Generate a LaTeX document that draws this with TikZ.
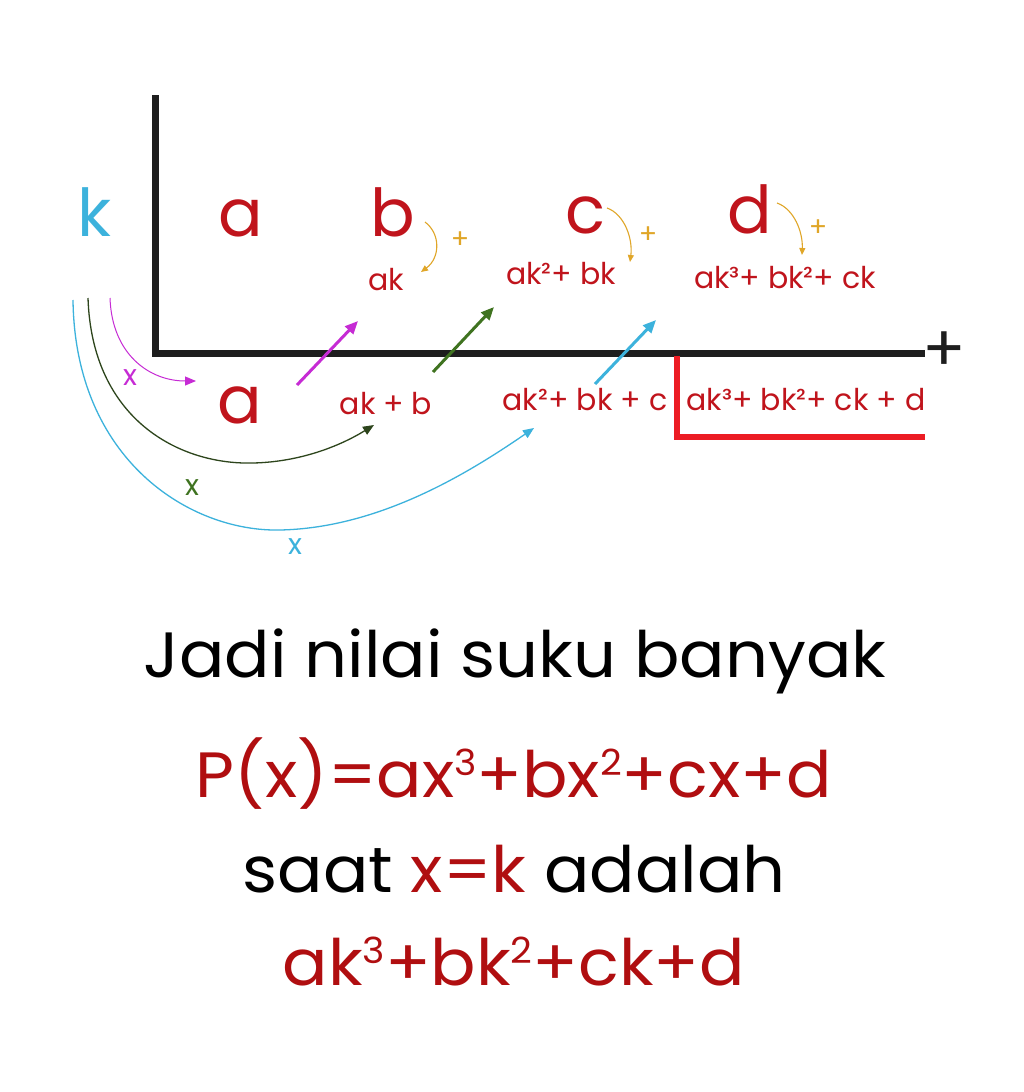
\documentclass[tikz,border=0pt]{standalone}
\usepackage{fontspec}
\setmainfont{Poppins}
\newfontfamily\bottomfont[FakeStretch=1.05]{Poppins}
\usetikzlibrary{arrows.meta}
\definecolor{dred}{HTML}{C0141C}
\definecolor{bred}{HTML}{B00E10}
\definecolor{lred}{HTML}{EC1C24}
\definecolor{kcyan}{HTML}{3CB2DC}
\definecolor{mag}{HTML}{C62BD4}
\definecolor{dgreen}{HTML}{3F7320}
\definecolor{dkgreen}{HTML}{2D451C}
\definecolor{gold}{HTML}{E0A628}
\definecolor{axisc}{HTML}{1E1E1E}
\newcommand{\supnum}[1]{\raisebox{0.34em}{\fontsize{36}{36}\selectfont #1}}
\tikzset{
  big/.style={font=\fontsize{66}{70}\selectfont, text=dred, anchor=base, inner sep=0pt},
  small/.style={font=\fontsize{30}{32}\selectfont, text=dred, anchor=base, inner sep=0pt},
  xlab/.style={font=\fontsize{29}{30}\selectfont, anchor=center, inner sep=0pt},
  pluslab/.style={font=\fontsize{27}{28}\selectfont, text=gold, anchor=center, inner sep=0pt},
  bigline/.style={font=\bottomfont\fontsize{64}{70}\selectfont, anchor=base, inner sep=0pt},
  yarrow/.style={draw=gold, line width=1.1pt, -{Triangle[length=7pt,width=6pt]}},
  diag/.style={line width=3pt, -{Triangle[length=13pt,width=11pt]}},
  curvearrow/.style={line width=1.3pt, -{Triangle[length=11pt,width=9pt]}},
}
\begin{document}
\begin{tikzpicture}[x=1pt,y=-1pt]
\useasboundingbox (0,0) rectangle (1023,1092);
\fill[white] (0,0) rectangle (1023,1092);
% axes
\draw[axisc, line width=7pt, line join=miter] (155,95) -- (155,353) -- (925,353);
\node[font=\fontsize{64}{66}\selectfont, text=axisc, inner sep=0pt, anchor=center] (endplus) at (944,352) {+};
% red L
\draw[lred, line width=6pt, line join=miter] (677,356) -- (677,437) -- (925,437);
% top row
\node[big, text=kcyan] (k) at (94,236) {k};
\node[big] (a1) at (241,236) {a};
\node[big] (b) at (393,236) {b};
\node[big] (c) at (586,233) {c};
\node[big] (d) at (750,233) {d};
\node[small] (ak) at (386,290) {ak};
\node[small] (ak2bk) at (561,284) {ak²+ bk};
\node[small] (ak3) at (785,288) {ak³+ bk²+ ck};
% bottom row
\node[big] (a2) at (240,423) {a};
\node[small] (akb) at (386,414) {ak + b};
\node[small] (akbc) at (585,410) {ak²+ bk + c};
\node[small] (result) at (806,410) {ak³+ bk²+ ck + d};
% yellow arrows
\coordinate (yb1) at (425,222); \coordinate (yb2) at (421,272);
\coordinate (yc1) at (607,208); \coordinate (yc2) at (630,262);
\coordinate (yd1) at (777,203); \coordinate (yd2) at (802,255);
\draw[yarrow] (yb1) .. controls (441,234) and (440,258) .. (yb2);
\draw[yarrow] (yc1) .. controls (624,214) and (633,238) .. (yc2);
\draw[yarrow] (yd1) .. controls (794,209) and (803,232) .. (yd2);
\node[pluslab] (pb) at (460,240) {+};
\node[pluslab] (pc) at (648,235) {+};
\node[pluslab] (pd) at (818,228) {+};
% diagonal arrows
\coordinate (m1) at (297,385); \coordinate (m2) at (358,321);
\coordinate (g1) at (433,372); \coordinate (g2) at (494,307);
\coordinate (c1) at (595,384); \coordinate (c2) at (656,320);
\draw[diag, mag] (m1) -- (m2);
\draw[diag, dgreen] (g1) -- (g2);
\draw[diag, kcyan] (c1) -- (c2);
% curved arrows from k
\coordinate (ms) at (110,298); \coordinate (me) at (196,381);
\coordinate (gs) at (88,298); \coordinate (ge) at (374,425);
\coordinate (cs) at (73,300); \coordinate (ce) at (534,428);
\draw[curvearrow, mag, line width=1pt] (ms) .. controls (112,355) and (150,381) .. (me);
\draw[curvearrow, dkgreen] (gs) .. controls (92,420) and (180,465) .. (253,463) .. controls (300,462) and (340,446) .. (ge);
\draw[curvearrow, kcyan] (cs) .. controls (75,460) and (190,532) .. (280,530) .. controls (380,528) and (470,472) .. (ce);
\node[xlab, text=mag] (xm) at (130,378) {x};
\node[xlab, text=dgreen] (xg) at (192,488) {x};
\node[xlab, text=kcyan] (xc) at (295,547) {x};
% conclusion text
\node[bigline, text=black] (l1) at (515,677) {Jadi nilai suku banyak};
\node[bigline, text=bred] (l2) at (514,797) {P(x)=ax\supnum{3}+bx\supnum{2}+cx+d};
\node[bigline, text=black] (l3) at (514,892) {saat \textcolor{bred}{x=k} adalah};
\node[bigline, text=bred] (l4) at (514,985) {ak\supnum{3}+bk\supnum{2}+ck+d};
\end{tikzpicture}
\end{document}
